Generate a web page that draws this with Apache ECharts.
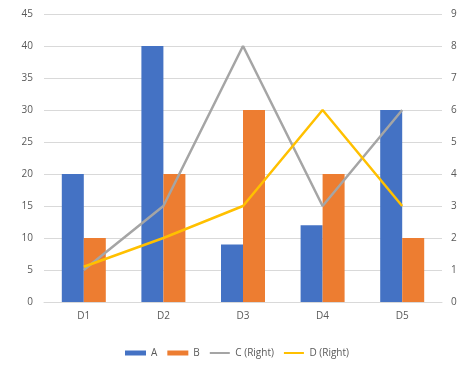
<!DOCTYPE html>
<html><head><meta charset="utf-8">
<script src="https://cdn.jsdelivr.net/npm/echarts@6/dist/echarts.min.js"></script>
<style>html,body{margin:0;padding:0;background:#fff}#c{width:474px;height:369px}</style>
</head><body><div id="c"></div>
<script>
const categories = ['D1','D2','D3','D4','D5'];
const seriesA = [20, 40, 9, 12, 30];
const seriesB = [10, 20, 30, 20, 10];
const seriesC = [1, 3, 8, 3, 6];
const seriesD = [1.1, 2, 3, 6, 3];
const leftTicks = {min: 0, max: 45, interval: 5};
const rightTicks = {min: 0, max: 9, interval: 1};

const lineIcon = 'path://M0,0L0.01,0L0.01,0.01Z M0,1.6H20V3.4H0Z M0,5L0.01,5L0.01,4.99Z';
const chart = echarts.init(document.getElementById('c'));
const lbl = {color: '#595959', fontSize: 10, fontFamily: 'Open Sans'};
chart.setOption({
  animation: false,
  backgroundColor: '#fff',
  grid: {left: 44, right: 32, top: 14, bottom: 67},
  legend: {
    bottom: 6, left: 'center', itemWidth: 21, itemHeight: 5, itemGap: 10,
    textStyle: {color: '#595959', fontSize: 10, fontFamily: 'Open Sans'},
    data: [{name: 'A', icon: 'rect'}, {name: 'B', icon: 'rect'},
           {name: 'C (Right)', icon: lineIcon}, {name: 'D (Right)', icon: lineIcon}]
  },
  xAxis: {
    type: 'category', data: categories,
    axisLine: {lineStyle: {color: '#d9d9d9'}},
    axisTick: {show: false},
    axisLabel: Object.assign({margin: 9}, lbl)
  },
  yAxis: [
    {type: 'value', min: leftTicks.min, max: leftTicks.max, interval: leftTicks.interval,
     axisLine: {show: false}, axisTick: {show: false},
     axisLabel: Object.assign({margin: 11}, lbl),
     splitLine: {lineStyle: {color: '#d9d9d9'}}},
    {type: 'value', min: rightTicks.min, max: rightTicks.max, interval: rightTicks.interval,
     axisLine: {show: false}, axisTick: {show: false},
     axisLabel: Object.assign({margin: 9}, lbl),
     splitLine: {show: false}}
  ],
  series: [
    {name: 'A', type: 'bar', data: seriesA, barWidth: 22, barGap: '0%', itemStyle: {color: '#4472C4'}},
    {name: 'B', type: 'bar', data: seriesB, barWidth: 22, barGap: '0%', itemStyle: {color: '#ED7D31'}},
    {name: 'C (Right)', type: 'line', yAxisIndex: 1, data: seriesC, symbol: 'none',
     lineStyle: {color: '#A5A5A5', width: 2.5}, itemStyle: {color: '#A5A5A5'}},
    {name: 'D (Right)', type: 'line', yAxisIndex: 1, data: seriesD, symbol: 'none',
     lineStyle: {color: '#FFC000', width: 2.5}, itemStyle: {color: '#FFC000'}}
  ]
});
</script></body></html>
